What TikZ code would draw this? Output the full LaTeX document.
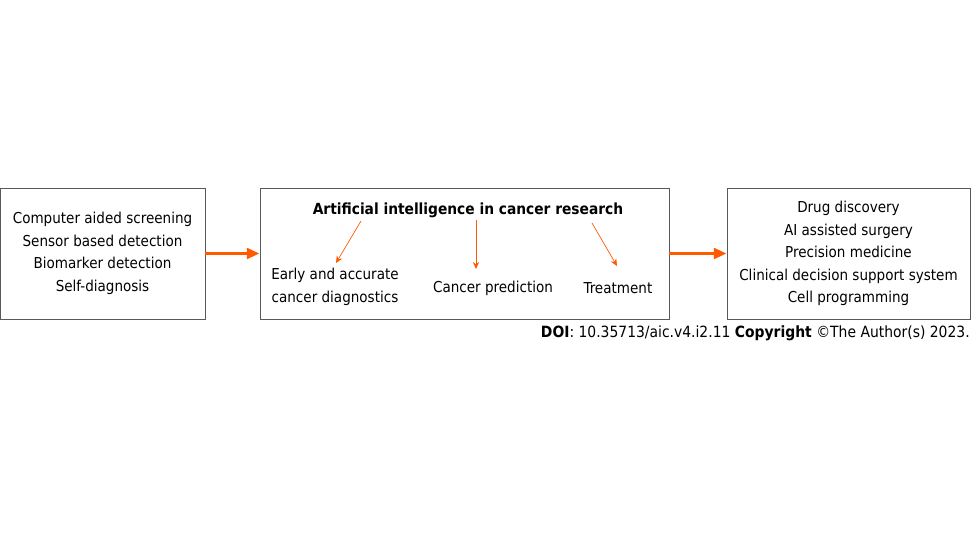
\documentclass[tikz,border=0pt]{standalone}
\usepackage{fontspec}
\setmainfont{DejaVu Sans Condensed}
\usetikzlibrary{arrows.meta}
\definecolor{aiorange}{RGB}{255,90,0}
\begin{document}
\begin{tikzpicture}[x=0.025cm, y=-0.025cm, thin]
  % Define styles
  \tikzstyle{box} = [rectangle, draw=black!65, line width=0.6pt, minimum height=3.275cm, inner sep=0pt, align=center, font=\fontsize{10.7}{16}\selectfont]
  \tikzstyle{label} = [align=center, inner sep=0pt, font=\fontsize{10.7}{16}\selectfont]
  \tikzstyle{bigarrow} = [aiorange, line width=2.4pt, -{Triangle[length=9pt, width=7.5pt]}]
  \tikzstyle{smallarrow} = [aiorange, line width=0.5pt, -{Stealth[length=5pt, width=4.5pt]}]
  \useasboundingbox (0,0) rectangle (976,535);

  % Boxes
  \node[box, minimum width=5.125cm] (tools) at (102.5, 253.5) {Computer aided screening\\Sensor based detection\\Biomarker detection\\Self-diagnosis};
  \node[box, minimum width=10.225cm] (ai) at (464.5, 253.5) {};
  \node[box, minimum width=6.075cm] (apps) at (848.5, 253.5) {Drug discovery\\AI assisted surgery\\Precision medicine\\Clinical decision support system\\Cell programming};

  % Inside the middle box
  \node[label, font=\fontsize{10.9}{16}\selectfont\bfseries] (title) at (468, 210) {Artificial intelligence in cancer research};
  \node[label] (early) at (335, 287) {Early and accurate\\cancer diagnostics};
  \node[label] (pred) at (493, 288) {Cancer prediction};
  \node[label] (treat) at (618, 288) {Treatment};

  \coordinate (s1) at (361, 221);
  \coordinate (s2) at (476, 220);
  \coordinate (s3) at (592, 223);
  \coordinate (e1) at (336, 263);
  \coordinate (e2) at (476, 269);
  \coordinate (e3) at (617, 266);

  % Arrows: between boxes
  \draw[bigarrow] (tools) -- (ai);
  \draw[bigarrow] (ai) -- (apps);

  % Arrows: title to topics
  \draw[smallarrow] (s1) -- (e1);
  \draw[smallarrow] (s2) -- (e2);
  \draw[smallarrow] (s3) -- (e3);

  % Citation line
  \node[anchor=east, inner sep=0pt, font=\fontsize{11}{12}\selectfont] (doi) at (970, 333) {\textbf{DOI}: 10.35713/aic.v4.i2.11 \textbf{Copyright} \textcopyright The Author(s) 2023.};
\end{tikzpicture}
\end{document}
